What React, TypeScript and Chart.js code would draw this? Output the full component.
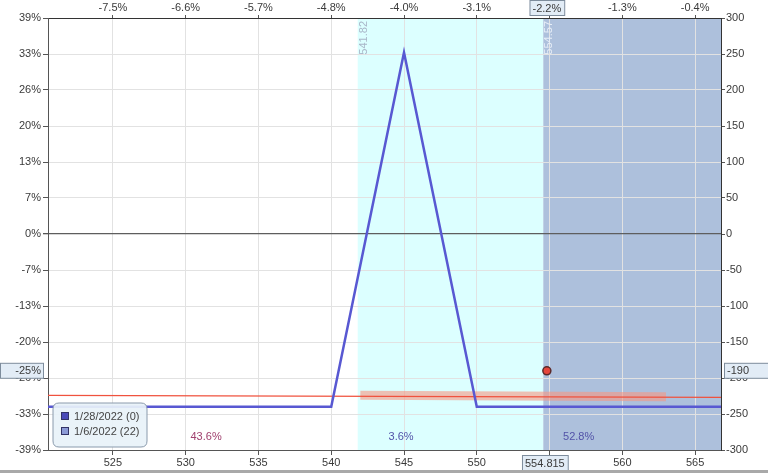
import React, { useEffect, useRef } from 'react';
import { Chart, registerables } from 'chart.js';
Chart.register(...registerables);

const xMin = 520.54;
const xMax = 566.78;
const priceTicks = [525, 530, 535, 540, 545, 550, 555, 560, 565];
const priceTickLabels = ['525', '530', '535', '540', '545', '550', '554.815', '560', '565'];
const pctTopLabels = ['-7.5%', '-6.6%', '-5.7%', '-4.8%', '-4.0%', '-3.1%', '-2.2%', '-1.3%', '-0.4%'];
const plTicks = [300, 250, 200, 150, 100, 50, 0, -50, -100, -150, -200, -250, -300];
const pctLeftLabels = ['39%', '33%', '26%', '20%', '13%', '7%', '0%', '-7%', '-13%', '-20%', '-26%', '-33%', '-39%'];

const expPrices = [520.54, 540, 545, 550, 566.78];
const expValues = [-240, -240, 252, -240, -240];
const todayPrices = [520.54, 566.78];
const todayValues = [-224, -227];
const bandPrices = [542, 563];
const bandValues = [-224, -226];

const currentPrice = 554.815;
const currentPL = -190;
const currentPct = '-25%';
const currentPLLabel = '-190';
const currentPctTop = '-2.2%';
const rangeLow = 541.82;
const rangeHigh = 554.57;
const probLabels = ['43.6%', '3.6%', '52.8%'];
const probPrices = [531.4, 544.8, 557.0];
const probLevel = -282;
const legendLabels = ['1/28/2022 (0)', '1/6/2022 (22)'];

const FONT = '"Liberation Sans", Arial, sans-serif';

function boxLabel(ctx: CanvasRenderingContext2D, text: string, x: number, y: number, align: 'left' | 'right' | 'center', bx0?: number, bx1?: number) {
  ctx.save();
  ctx.font = `11px ${FONT}`;
  const w = ctx.measureText(text).width;
  let left = align === 'center' ? x - w / 2 : align === 'right' ? x - w : x;
  const x0 = bx0 !== undefined ? bx0 : left - 3;
  const x1 = bx1 !== undefined ? bx1 : left + w + 3;
  ctx.fillStyle = '#e2ecf6';
  ctx.fillRect(x0 + 0.5, y - 7.5, x1 - x0, 15);
  ctx.strokeStyle = '#7d8c9c';
  ctx.lineWidth = 1;
  ctx.strokeRect(x0 + 0.5, y - 7.5, x1 - x0, 15);
  ctx.fillStyle = '#3a3a3a';
  ctx.textAlign = 'left';
  ctx.textBaseline = 'middle';
  ctx.fillText(text, left, y + 0.5);
  ctx.restore();
}

const decorPlugin = {
  id: 'decor',
  beforeDraw(chart: any) {
    const { ctx, chartArea } = chart;
    const { top, bottom, left, right } = chartArea;
    const x = chart.scales.x;
    ctx.save();
    ctx.fillStyle = '#ffffff';
    ctx.fillRect(0, 0, chart.width, chart.height);
    const a = x.getPixelForValue(rangeLow);
    const b = x.getPixelForValue(rangeHigh);
    ctx.fillStyle = '#dcffff';
    ctx.fillRect(a, top, b - a, bottom - top);
    ctx.fillStyle = '#adc0dc';
    ctx.fillRect(b, top, right - b, bottom - top);
    ctx.restore();
  },
  afterDraw(chart: any) {
    const { ctx, chartArea } = chart;
    const { top, bottom } = chartArea;
    const x = chart.scales.x;
    const y = chart.scales.y;
    ctx.save();
    ctx.font = `11px ${FONT}`;
    const vt = (val: number, color: string) => {
      const px = x.getPixelForValue(val);
      ctx.save();
      ctx.translate(px + 6, top + 3);
      ctx.rotate(-Math.PI / 2);
      ctx.textAlign = 'right';
      ctx.textBaseline = 'middle';
      ctx.fillStyle = color;
      ctx.fillText(val.toFixed(2), 0, 0);
      ctx.restore();
    };
    vt(rangeLow, '#a9b6c8');
    vt(rangeHigh, '#e6edf7');

    const probColors = ['#a0406e', '#5252a8', '#5252a8'];
    probLabels.forEach((t, i) => {
      ctx.fillStyle = probColors[i];
      ctx.textAlign = 'center';
      ctx.textBaseline = 'middle';
      ctx.fillText(t, x.getPixelForValue(probPrices[i]), y.getPixelForValue(probLevel));
    });

    const lx = 53, ly = 403, lw = 94, lh = 44, r = 6;
    ctx.beginPath();
    ctx.moveTo(lx + r, ly);
    ctx.lineTo(lx + lw - r, ly);
    ctx.quadraticCurveTo(lx + lw, ly, lx + lw, ly + r);
    ctx.lineTo(lx + lw, ly + lh - r);
    ctx.quadraticCurveTo(lx + lw, ly + lh, lx + lw - r, ly + lh);
    ctx.lineTo(lx + r, ly + lh);
    ctx.quadraticCurveTo(lx, ly + lh, lx, ly + lh - r);
    ctx.lineTo(lx, ly + r);
    ctx.quadraticCurveTo(lx, ly, lx + r, ly);
    ctx.closePath();
    ctx.fillStyle = 'rgba(232,242,248,0.92)';
    ctx.fill();
    ctx.strokeStyle = '#8a9aac';
    ctx.lineWidth = 1;
    ctx.stroke();
    const sq = ['#4a4ab8', '#8c9ad6'];
    legendLabels.forEach((t, i) => {
      const yy = ly + 13 + i * 15;
      ctx.fillStyle = sq[i];
      ctx.fillRect(lx + 8, yy - 4, 8, 8);
      ctx.strokeStyle = '#333366';
      ctx.strokeRect(lx + 8.5, yy - 3.5, 7, 7);
      ctx.fillStyle = '#444';
      ctx.textAlign = 'left';
      ctx.textBaseline = 'middle';
      ctx.fillText(t, lx + 21, yy + 0.5);
    });

    const cpx = x.getPixelForValue(currentPrice);
    const cpy = y.getPixelForValue(currentPL);
    boxLabel(ctx, currentPctTop, cpx, 8, 'center');
    boxLabel(ctx, priceTickLabels[6], cpx - 2, bottom + 13, 'center');
    boxLabel(ctx, currentPct, 41, cpy, 'right', 0, 43);
    boxLabel(ctx, currentPLLabel, 727, cpy, 'left', 724, 768);

    ctx.fillStyle = '#a9a9a9';
    ctx.fillRect(0, 470, chart.width, 3);
    ctx.restore();
  },
};

export default function App() {
  const ref = useRef<HTMLCanvasElement>(null);
  useEffect(() => {
    if (!ref.current) return;
    Chart.defaults.font.family = FONT;
    Chart.defaults.font.size = 11;
    const chart = new Chart(ref.current, {
      type: 'line',
      data: {
        datasets: [
          {
            label: 'current',
            data: [{ x: currentPrice, y: currentPL }],
            showLine: false,
            pointRadius: 4,
            pointBackgroundColor: '#e5463c',
            pointBorderColor: '#5a2a2a',
            pointBorderWidth: 1.5,
          },
          {
            label: legendLabels[0],
            data: expPrices.map((p, i) => ({ x: p, y: expValues[i] })),
            borderColor: '#5858d2',
            borderWidth: 2.5,
            pointRadius: 0,
            tension: 0,
          },
          {
            label: legendLabels[1],
            data: todayPrices.map((p, i) => ({ x: p, y: todayValues[i] })),
            borderColor: '#f0523e',
            borderWidth: 1.2,
            pointRadius: 0,
          },
          {
            label: 'band',
            data: bandPrices.map((p, i) => ({ x: p, y: bandValues[i] })),
            borderColor: 'rgba(246,150,130,0.6)',
            borderWidth: 9,
            pointRadius: 0,
          },
        ],
      },
      options: {
        animation: false,
        responsive: false,
        maintainAspectRatio: false,
        layout: { padding: 0 },
        plugins: { legend: { display: false }, tooltip: { enabled: false } },
        scales: {
          x: {
            type: 'linear',
            position: 'bottom',
            min: xMin,
            max: xMax,
            afterBuildTicks: (s: any) => { s.ticks = priceTicks.map((v) => ({ value: v })); },
            afterFit: (s: any) => { s.height = 23; },
            ticks: {
              color: '#3a3a3a',
              padding: 1,
              maxRotation: 0,
              autoSkip: false,
              callback: (v: any) => {
                const i = priceTicks.indexOf(Number(v));
                return i === 6 ? '' : priceTickLabels[i];
              },
            },
            grid: { color: '#e2e2e2', tickColor: '#555', tickLength: 5 },
            border: { color: '#555' },
          },
          x2: {
            type: 'linear',
            position: 'top',
            min: xMin,
            max: xMax,
            afterBuildTicks: (s: any) => { s.ticks = priceTicks.map((v) => ({ value: v })); },
            afterFit: (s: any) => { s.height = 18; },
            ticks: {
              color: '#3a3a3a',
              padding: 0,
              maxRotation: 0,
              autoSkip: false,
              callback: (v: any) => {
                const i = priceTicks.indexOf(Number(v));
                return i === 6 ? '' : pctTopLabels[i];
              },
            },
            grid: { drawOnChartArea: false, tickColor: '#555', tickLength: 3 },
            border: { color: '#333' },
          },
          y: {
            type: 'linear',
            position: 'left',
            min: -300,
            max: 300,
            afterBuildTicks: (s: any) => { s.ticks = plTicks.map((v) => ({ value: v })); },
            afterFit: (s: any) => { s.width = 48; },
            ticks: {
              color: '#3a3a3a',
              padding: 2,
              autoSkip: false,
              callback: (v: any) => {
                const i = plTicks.indexOf(Number(v));
                return pctLeftLabels[i];
              },
            },
            grid: {
              color: (c: any) => (c.tick && c.tick.value === 0 ? '#5e5e5e' : '#e2e2e2'),
              lineWidth: (c: any) => (c.tick && c.tick.value === 0 ? 1.3 : 1),
              tickColor: '#555',
              tickLength: 5,
            },
            border: { color: '#555' },
          },
          y2: {
            type: 'linear',
            position: 'right',
            min: -300,
            max: 300,
            afterBuildTicks: (s: any) => { s.ticks = plTicks.map((v) => ({ value: v })); },
            afterFit: (s: any) => { s.width = 47; },
            ticks: { color: '#3a3a3a', padding: 1, autoSkip: false, callback: (v: any) => String(v) },
            grid: { drawOnChartArea: false, tickColor: '#555', tickLength: 4 },
            border: { color: '#333' },
          },
        },
      },
      plugins: [decorPlugin],
    } as any);
    return () => chart.destroy();
  }, []);
  return (
    <div style={{ position: 'absolute', left: 0, top: 0, width: 768, height: 473, background: '#fff' }}>
      <canvas ref={ref} width={768} height={473} style={{ width: 768, height: 473, display: 'block' }} />
    </div>
  );
}
